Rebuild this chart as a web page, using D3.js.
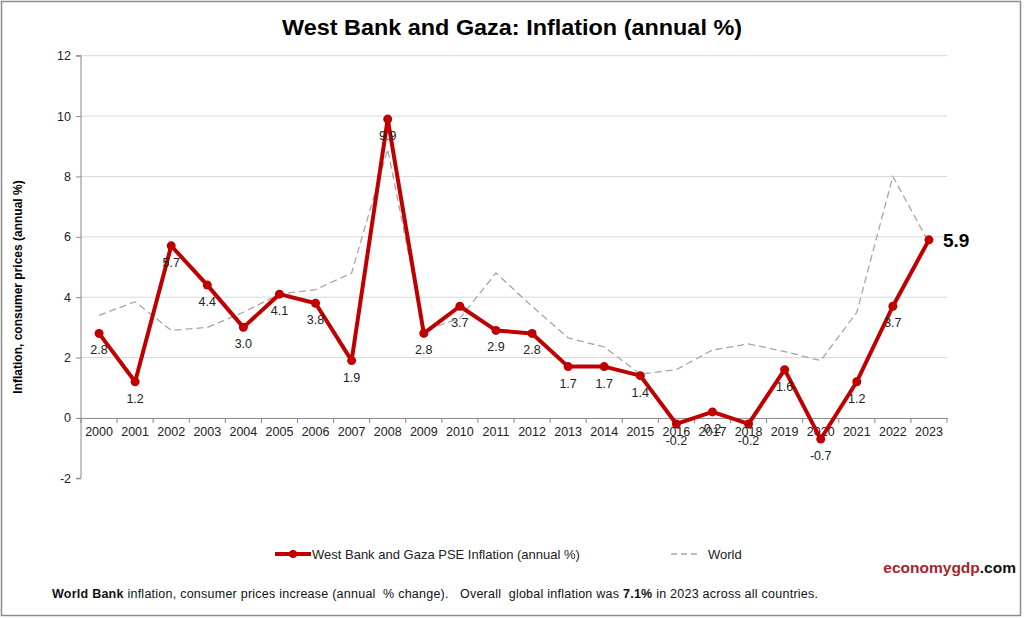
<!DOCTYPE html>
<html><head><meta charset="utf-8">
<script src="https://cdn.jsdelivr.net/npm/d3@7"></script>
<style>body{margin:0;background:#fff}svg{display:block;font-family:"Liberation Sans",Arial,sans-serif}</style>
</head><body><svg id="c" width="1024" height="618"></svg>
<script>
const years = ["2000","2001","2002","2003","2004","2005","2006","2007","2008","2009","2010","2011","2012","2013","2014","2015","2016","2017","2018","2019","2020","2021","2022","2023"];
const pse = [2.8,1.2,5.7,4.4,3.0,4.1,3.8,1.9,9.9,2.8,3.7,2.9,2.8,1.7,1.7,1.4,-0.2,0.2,-0.2,1.6,-0.7,1.2,3.7,5.9];
const world = [3.4,3.85,2.9,3.0,3.5,4.1,4.25,4.8,8.9,2.9,3.3,4.8,3.7,2.65,2.35,1.45,1.6,2.25,2.45,2.2,1.9,3.5,8.0,5.8];
const yTicks = [-2,0,2,4,6,8,10,12];
const title = "West Bank and Gaza: Inflation (annual %)";
const yLabel = "Inflation, consumer prices (annual %)";
const seriesName = "West Bank and Gaza PSE Inflation (annual %)";
const worldName = "World";

const svg = d3.select("#c");
const red = "#c00000";
const L = 81, R = 947, T = 55.7, B0 = 478.3;
const x = d3.scaleBand().domain(years).range([L, R]);
const y = d3.scaleLinear().domain([-2, 12]).range([B0, T]);
const fmt1 = d => d3.format(".1f")(d).replace("\u2212","-");
const fmtI = d => d3.format("d")(d).replace("\u2212","-");

svg.append("rect").attr("x",1.5).attr("y",1.5).attr("width",1019).attr("height",614)
  .attr("fill","#fff").attr("stroke","#8c8c8c").attr("stroke-width",1.5);

svg.append("text").attr("x",512).attr("y",35).attr("text-anchor","middle")
  .attr("font-size",22).attr("font-weight","bold").attr("fill","#000")
  .attr("textLength",460).attr("lengthAdjust","spacingAndGlyphs").text(title);

// grid
svg.append("g").selectAll("line").data(yTicks.filter(d=>d!==0 && d!==-2)).join("line")
  .attr("x1",L).attr("x2",R).attr("y1",d=>y(d)).attr("y2",d=>y(d))
  .attr("stroke","#d9d9d9").attr("stroke-width",1);

// y axis
const ya = svg.append("g").attr("transform",`translate(${L},0)`)
  .call(d3.axisLeft(y).tickValues(yTicks).tickSize(5).tickFormat(fmtI));
ya.select(".domain").attr("stroke","#888").attr("d",`M-5,${y(12)}H0V${y(-2)}H-5`);
ya.selectAll(".tick line").attr("stroke","#888");
ya.selectAll("text").attr("font-size",12.5).attr("fill","#222").attr("font-family","Liberation Sans, Arial, sans-serif").attr("x",-10);

// x axis at 0
const xa = svg.append("g").attr("transform",`translate(0,${y(0)})`)
  .call(d3.axisBottom(x).tickSize(0));
xa.select(".domain").attr("stroke","#888");
xa.selectAll("text").attr("font-size",12.5).attr("fill","#222").attr("dy","0.75em").attr("y",9)
  .attr("font-family","Liberation Sans, Arial, sans-serif");
svg.append("g").selectAll("line").data(years.concat(["end"])).join("line")
  .attr("x1",(d,i)=>L + i*x.bandwidth()).attr("x2",(d,i)=>L + i*x.bandwidth())
  .attr("y1",y(0)).attr("y2",y(0)+5).attr("stroke","#888");

svg.append("text").attr("transform",`translate(22,${(T+B0)/2+20}) rotate(-90)`)
  .attr("text-anchor","middle").attr("font-size",12).attr("font-weight","bold").attr("fill","#000").text(yLabel);

const cx = d => x(d) + x.bandwidth()/2;

// world line
svg.append("path").datum(world).attr("fill","none").attr("stroke","#a6a6a6").attr("stroke-width",1.3)
  .attr("stroke-dasharray","7,4")
  .attr("d", d3.line().x((d,i)=>cx(years[i])).y(d=>y(d)));

// pse line
svg.append("path").datum(pse).attr("fill","none").attr("stroke",red).attr("stroke-width",4)
  .attr("stroke-linejoin","round")
  .attr("d", d3.line().x((d,i)=>cx(years[i])).y(d=>y(d)));
svg.append("g").selectAll("circle").data(pse).join("circle")
  .attr("cx",(d,i)=>cx(years[i])).attr("cy",d=>y(d)).attr("r",4.5).attr("fill",red);

// labels
svg.append("g").selectAll("text").data(pse.slice(0,-1)).join("text")
  .attr("x",(d,i)=>cx(years[i])).attr("y",d=>y(d)+21).attr("text-anchor","middle")
  .attr("font-size",12.5).attr("fill","#222").text(fmt1);
svg.append("text").attr("x",cx(years[23])+14).attr("y",y(pse[23])+7)
  .attr("font-size",19).attr("font-weight","bold").attr("fill","#000").text(fmt1(pse[23]));

// legend
const lg = svg.append("g");
lg.append("line").attr("x1",275).attr("x2",311).attr("y1",554).attr("y2",554).attr("stroke",red).attr("stroke-width",4);
lg.append("circle").attr("cx",293).attr("cy",554).attr("r",4).attr("fill",red);
lg.append("text").attr("x",312).attr("y",559).attr("font-size",13).attr("fill","#222").text(seriesName);
lg.append("line").attr("x1",671).attr("x2",701).attr("y1",554).attr("y2",554).attr("stroke","#a6a6a6").attr("stroke-width",1.3).attr("stroke-dasharray","6,4");
lg.append("text").attr("x",708).attr("y",559).attr("font-size",13).attr("fill","#222").text(worldName);

// brand
const br = svg.append("text").attr("x",1016).attr("y",573).attr("text-anchor","end").attr("font-size",15.5).attr("font-weight","bold");
br.append("tspan").attr("fill","#a4262c").text("economygdp");
br.append("tspan").attr("fill","#111").text(".com");

// footer
const ft = svg.append("text").attr("x",52).attr("y",598).attr("font-size",12.5).attr("fill","#111")
  .attr("textLength",766).attr("lengthAdjust","spacing").style("white-space","pre");
ft.append("tspan").attr("font-weight","bold").text("World Bank");
ft.append("tspan").text(" inflation, consumer prices increase (annual  % change).   Overall  global inflation was ");
ft.append("tspan").attr("font-weight","bold").text("7.1%");
ft.append("tspan").text(" in 2023 across all countries.");
</script></body></html>
